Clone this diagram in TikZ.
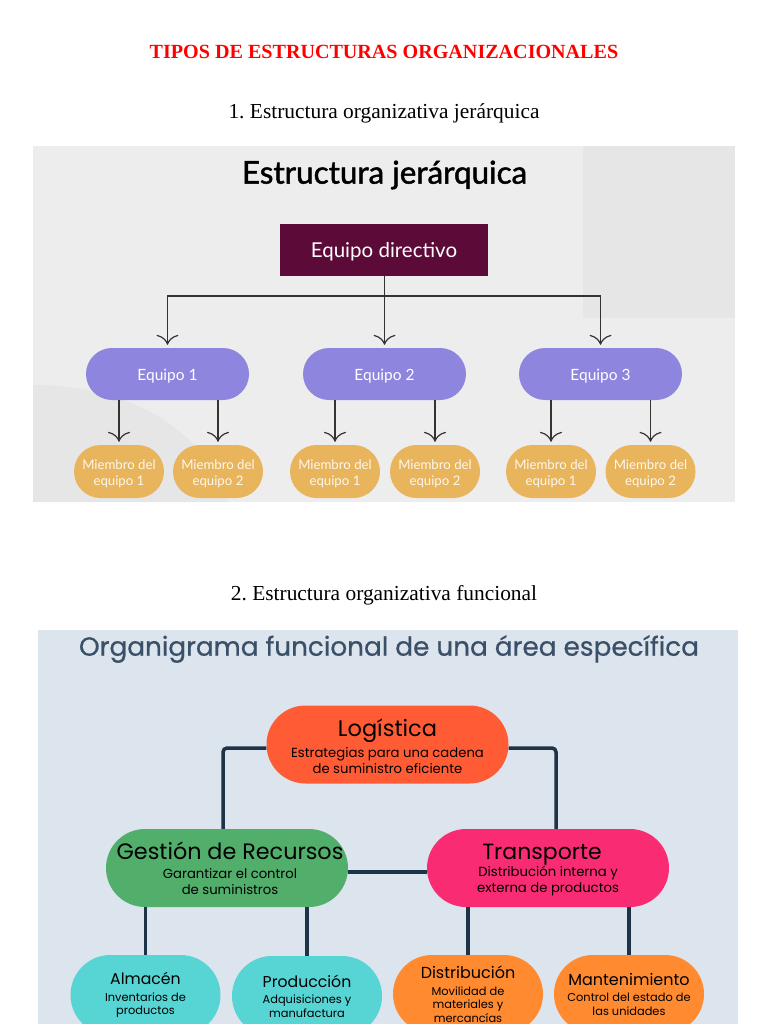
\documentclass[tikz,border=0pt]{standalone}
\usepackage{fontspec}
\usetikzlibrary{arrows.meta,shapes.misc}
\setmainfont{Liberation Serif}
\newfontfamily\latofont{Lato}
\newfontfamily\latotitulo[FakeBold=1.5]{Lato}
\newfontfamily\popfont{Poppins}
\newfontfamily\poptitulo[FakeBold=0.6]{Poppins}
\definecolor{panelgris}{HTML}{EEEDED}
\definecolor{manchagris}{HTML}{E6E6E6}
\definecolor{panelazul}{HTML}{DCE4EE}
\definecolor{vino}{HTML}{5C0A38}
\definecolor{lila}{HTML}{8E86DE}
\definecolor{oro}{HTML}{E8B45C}
\definecolor{naranjo}{HTML}{FF5C35}
\definecolor{verde}{HTML}{51AE6B}
\definecolor{fucsia}{HTML}{F92C73}
\definecolor{turquesa}{HTML}{57D4D4}
\definecolor{naranja}{HTML}{FF8A30}
\definecolor{tinta}{HTML}{1E3347}
\definecolor{tituloazul}{HTML}{3A5068}
\tikzset{
	equipo/.style={rounded rectangle, fill=lila, text=white, minimum width=163, minimum height=52, inner sep=0, font=\latofont\fontsize{15.5}{18}\selectfont, execute at begin node={\rule{0pt}{15pt}}},
	miembro/.style={rounded rectangle, fill=oro, text=white!90!oro, minimum width=90, minimum height=53, inner sep=0, align=center, font=\latofont\fontsize{13.2}{16}\selectfont},
	flecha/.style={draw=black!80, line width=1.2pt, -{Computer Modern Rightarrow[length=10pt,width=22pt]}, shorten >=3pt},
	area/.style={rounded rectangle, minimum width=242, minimum height=78, inner sep=0, align=center, font=\popfont\fontsize{13.2}{16}\selectfont},
	hoja/.style={rounded rectangle, minimum width=150, minimum height=80, inner sep=0, align=center, font=\popfont\fontsize{11.4}{13.5}\selectfont},
	enlace/.style={draw=tinta, line width=3.5pt, rounded corners=4}
}
\newcommand{\cabeza}[3][3pt]{{\fontsize{#2}{#2}\selectfont #3}\\[#1]}
\newcommand{\integrante}[1]{\rule{0pt}{14.5pt}Miembro del\\equipo #1}
\begin{document}
\frenchspacing
\begin{tikzpicture}[x=1pt,y=-1pt]
	\useasboundingbox (0,0) rectangle (768,1024);
	\clip (0,0) rectangle (768,1024);
	% encabezados
	\node (titulo) at (384,52) {\fontsize{20.1}{22}\selectfont\bfseries\color{red} TIPOS DE ESTRUCTURAS ORGANIZACIONALES};
	\node (sub1) at (384,113.5) {\fontsize{21.4}{24}\selectfont 1. Estructura organizativa jerárquica};
	\node (sub2) at (384,595.5) {\fontsize{21.4}{24}\selectfont 2. Estructura organizativa funcional};
	% primer panel
	\fill[panelgris] (33,146) rectangle (735,502);
	\fill[manchagris] (583,146) rectangle (735,318);
	\begin{scope}
		\clip (33,146) rectangle (735,502);
		\fill[manchagris] (33,385) .. controls (130,385) and (205,430) .. (228,502) -- (33,502) -- cycle;
	\end{scope}
	\node (est) at (384.5,175) {\latotitulo\fontsize{31.4}{34}\selectfont Estructura jerárquica};
	\node[rectangle, fill=vino, text=white, minimum width=208, minimum height=52, inner sep=0, font=\latofont\fontsize{20.5}{24}\selectfont, execute at begin node={\rule{0pt}{19pt}}] (dir) at (384,250) {Equipo directivo};
	\node[equipo] (eqa) at (167.5,374) {Equipo 1};
	\node[equipo] (eqb) at (384.5,374) {Equipo 2};
	\node[equipo] (eqc) at (600.5,374) {Equipo 3};
	\node[miembro] (ma1) at (119,471.5) {\integrante{1}};
	\node[miembro] (ma2) at (218,471.5) {\integrante{2}};
	\node[miembro] (mb1) at (335,471.5) {\integrante{1}};
	\node[miembro] (mb2) at (435,471.5) {\integrante{2}};
	\node[miembro] (mc1) at (551,471.5) {\integrante{1}};
	\node[miembro] (mc2) at (650.5,471.5) {\integrante{2}};
	\coordinate (bus) at (384.5,296);
	\draw[flecha] (dir.south -| eqb.north) -- (eqb.north);
	\draw[flecha] (bus) -| (eqa.north);
	\draw[flecha] (bus) -| (eqc.north);
	\draw[flecha] (ma1.north |- eqa.south) -- (ma1.north);
	\draw[flecha] (ma2.north |- eqa.south) -- (ma2.north);
	\draw[flecha] (mb1.north |- eqb.south) -- (mb1.north);
	\draw[flecha] (mb2.north |- eqb.south) -- (mb2.north);
	\draw[flecha] (mc1.north |- eqc.south) -- (mc1.north);
	\draw[flecha] (mc2.north |- eqc.south) -- (mc2.north);
	% segundo panel
	\fill[panelazul] (38,630) rectangle (738,1024);
	\node (org) at (389,649) {\poptitulo\fontsize{26.3}{30}\selectfont\color{tituloazul} Organigrama funcional de una área específica};
	\node[area, fill=naranjo] (log) at (387.5,744.5) {\cabeza{22.5}{\rule{0pt}{21pt}Logística}Estrategias para una cadena\\de suministro eficiente};
	\node[area, fill=verde] (ges) at (227,868) {\cabeza{22.3}{\makebox[150pt]{\kern6pt Gestión de Recursos}}\kern6pt Garantizar el control\\\kern6pt de suministros};
	\node[area, fill=fucsia] (tra) at (548,868) {\cabeza[0pt]{22}{\rule{0pt}{20pt}Transporte\kern12pt}Distribución interna y\\externa de productos};
	\node[hoja, fill=turquesa] (alm) at (145.5,995) {\cabeza{15.7}{Almacén}Inventarios de\\productos};
	\node[hoja, fill=turquesa] (pro) at (307,996) {\cabeza{15.7}{Producción}Adquisiciones y\\manufactura};
	\node[hoja, minimum height=78, fill=naranja] (dis) at (468,994) {\cabeza{16}{Distribución}Movilidad de\\materiales y\\mercancías};
	\node[hoja, minimum height=78, fill=naranja] (man) at (629,994) {\cabeza{16}{Mantenimiento}Control del estado de\\las unidades};
	\draw[enlace] ([yshift=-3.5]log.west) -| ([xshift=-4]ges.north);
	\draw[enlace] ([yshift=-3.5]log.east) -| ([xshift=8]tra.north);
	\draw[enlace] ([yshift=-4]ges.east) -- ([yshift=-4]tra.west);
	\draw[enlace] (alm.north |- ges.south) -- (alm.north);
	\draw[enlace] (pro.north |- ges.south) -- (pro.north);
	\draw[enlace] (dis.north |- tra.south) -- (dis.north);
	\draw[enlace] (man.north |- tra.south) -- (man.north);
\end{tikzpicture}
\end{document}
